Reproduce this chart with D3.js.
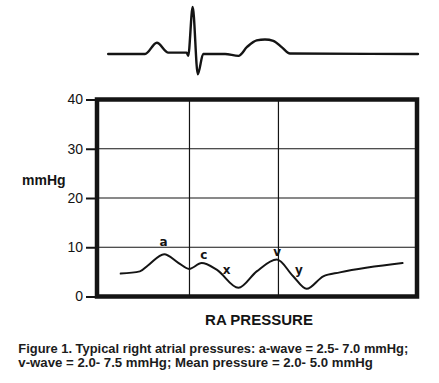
<!DOCTYPE html>
<html>
<head>
<meta charset="utf-8">
<script src="https://cdn.jsdelivr.net/npm/d3@7"></script>
<style>
  html, body { margin: 0; padding: 0; background: #fff; }
  svg { display: block; }
</style>
</head>
<body>
<svg id="chart" width="439" height="383"></svg>
<script>
// ---- data ----
// RA pressure waveform: time (arbitrary units 0-100 across the frame) and pressure (mmHg)
const pressureTime  = [7.4, 13.4, 15.9, 21.0, 25.3, 28.8, 32.7, 37.4, 44.2, 49.9, 56.2, 61.3, 65.5, 70.7, 75.9, 95.5];
const pressureValue = [4.65, 5.1, 6.3, 8.6, 6.9, 5.6, 6.8, 5.45, 1.76, 5.1, 7.5, 4.1, 1.56, 4.1, 4.9, 6.8];
// ECG trace above (same time axis, relative amplitude, R wave = 1)
const ecgTime  = [3.5, 15.0, 18.7, 22.3, 28.0, 28.5, 29.9, 31.5, 33.2, 40.0, 44.2, 46.9, 49.9, 52.5, 55.1, 57.8, 60.3, 100.3];
const ecgValue = [0, 0, 0.24, 0.03, 0.03, -0.04, 1.0, -0.43, 0, 0, -0.04, 0.15, 0.29, 0.31, 0.28, 0.14, 0.01, 0];
// wave labels
const waveNames = ["a", "c", "x", "v", "y"];
const waveTime  = [20.8, 33.4, 40.5, 56.3, 63.1];
const waveValue = [11.0, 8.5, 5.3, 9.0, 5.3];
// axis ticks and vertical grid
const yTicks = [0, 10, 20, 30, 40];
const gridTimes = [28.9, 56.7];
const yLabel = "mmHg";
const chartTitle = "RA PRESSURE";
const captionLines = [
  "Figure 1. Typical right atrial pressures: a-wave = 2.5- 7.0 mmHg;",
  "v-wave = 2.0- 7.5 mmHg; Mean pressure = 2.0- 5.0 mmHg"
];

// ---- drawing ----
const svg = d3.select("#chart");
const ink = "#141414";
const fLeft = 97, fRight = 417, fTop = 99.5, fBottom = 296.5;

const x = d3.scaleLinear().domain([0, 100]).range([fLeft, fRight]);
const y = d3.scaleLinear().domain([0, 40]).range([fBottom, fTop]);
const ecgY = d3.scaleLinear().domain([0, 1]).range([54, 7]);

// horizontal grid
svg.append("g").selectAll("line")
  .data(yTicks.filter(d => d > 0 && d < 40))
  .join("line")
  .attr("x1", fLeft).attr("x2", fRight)
  .attr("y1", d => y(d)).attr("y2", d => y(d))
  .attr("stroke", ink).attr("stroke-width", 1.2);

// vertical grid
svg.append("g").selectAll("line")
  .data(gridTimes)
  .join("line")
  .attr("x1", d => x(d)).attr("x2", d => x(d))
  .attr("y1", fTop).attr("y2", fBottom)
  .attr("stroke", ink).attr("stroke-width", 1.2);

// y axis ticks + labels
const yAxis = d3.axisLeft(y).tickValues(yTicks).tickSize(11).tickPadding(3).tickFormat(d3.format("d"));
const ga = svg.append("g").attr("transform", `translate(${fLeft},0)`).call(yAxis);
ga.select(".domain").remove();
ga.selectAll(".tick line").attr("stroke", ink).attr("stroke-width", 2);
ga.selectAll(".tick text")
  .attr("fill", ink)
  .style("font-family", "'Liberation Sans', Arial, sans-serif")
  .style("font-size", "14px");

// frame
svg.append("rect")
  .attr("x", fLeft).attr("y", fTop)
  .attr("width", fRight - fLeft).attr("height", fBottom - fTop)
  .attr("fill", "none").attr("stroke", ink).attr("stroke-width", 4.5);

// pressure waveform
const pLine = d3.line().x(d => x(d[0])).y(d => y(d[1])).curve(d3.curveMonotoneX);
svg.append("path")
  .datum(d3.zip(pressureTime, pressureValue))
  .attr("d", pLine)
  .attr("fill", "none").attr("stroke", ink).attr("stroke-width", 2)
  .attr("stroke-linecap", "round").attr("stroke-linejoin", "round");

// ECG trace
const eLine = d3.line().x(d => x(d[0])).y(d => ecgY(d[1])).curve(d3.curveMonotoneX);
svg.append("path")
  .datum(d3.zip(ecgTime, ecgValue))
  .attr("d", eLine)
  .attr("fill", "none").attr("stroke", ink).attr("stroke-width", 2.4)
  .attr("stroke-linecap", "round").attr("stroke-linejoin", "round");

// wave labels
svg.append("g").selectAll("text")
  .data(d3.zip(waveNames, waveTime, waveValue))
  .join("text")
  .attr("x", d => x(d[1])).attr("y", d => y(d[2]))
  .attr("text-anchor", "middle")
  .attr("dominant-baseline", "central")
  .attr("fill", ink)
  .style("font-family", "'DejaVu Sans', sans-serif")
  .style("font-weight", "bold")
  .style("font-size", "12px")
  .text(d => d[0]);

// y label
svg.append("text")
  .attr("x", 22).attr("y", 185)
  .attr("fill", ink)
  .style("font-family", "'Liberation Sans', Arial, sans-serif")
  .style("font-weight", "bold").style("font-size", "14px")
  .text(yLabel);

// title
svg.append("text")
  .attr("x", 259).attr("y", 325)
  .attr("text-anchor", "middle")
  .attr("fill", ink)
  .style("font-family", "'Liberation Sans', Arial, sans-serif")
  .style("font-weight", "bold").style("font-size", "15px")
  .text(chartTitle);

// caption
const capW = [390, 354.5];
svg.append("g").selectAll("text")
  .data(captionLines)
  .join("text")
  .attr("x", 18.3)
  .attr("y", (d, i) => 353 + i * 13.7)
  .attr("fill", "#1c1c1c")
  .style("font-family", "'Liberation Sans', Arial, sans-serif")
  .style("font-weight", "bold").style("font-size", "12px")
  .text(d => d)
  .each(function(d, i) {
    const w = this.getComputedTextLength();
    if (Math.abs(w - capW[i]) > 3) {
      d3.select(this).attr("textLength", capW[i]).attr("lengthAdjust", "spacingAndGlyphs");
    }
  });
</script>
</body>
</html>
